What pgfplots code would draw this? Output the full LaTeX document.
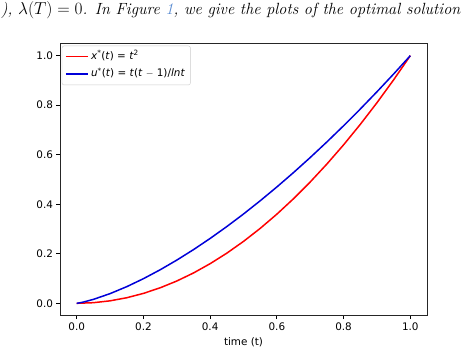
\documentclass[border=0pt]{standalone}
\usepackage{pgfplots}
\pgfplotsset{compat=1.18}
\usepackage{fontspec}
\newfontfamily\dejavu{DejaVu Sans}
\definecolor{linkblue}{RGB}{90,140,210}
\begin{document}
\begin{tikzpicture}[x=1pt,y=1pt]
\useasboundingbox (0,0) rectangle (474,355);
\clip (0,0) rectangle (474,355);
\fill[white] (0,0) rectangle (474,355);
\node[anchor=base west, inner sep=0pt, font=\fontsize{16.2}{18}\selectfont\itshape] at (1,340.5) {), $\lambda(T)=0$. In Figure \textcolor{linkblue}{1}, we give the plots of the optimal solution};
\begin{axis}[
  at={(60pt,39.3pt)}, anchor=south west,
  scale only axis, width=367pt, height=272.4pt,
  xmin=-0.05, xmax=1.05, ymin=-0.05, ymax=1.05,
  xtick={0,0.2,0.4,0.6,0.8,1.0},
  ytick={0,0.2,0.4,0.6,0.8,1.0},
  xtick pos=bottom, ytick pos=left,
  tick align=outside, major tick length=3.5pt,
  tick style={black, line width=0.8pt},
  axis line style={black!85, line width=0.8pt},
  /pgf/number format/assume math mode=true,
  ticklabel style={font=\dejavu\fontsize{10.4}{12}\selectfont, /pgf/number format/fixed, /pgf/number format/fixed zerofill, /pgf/number format/precision=1},
  xlabel={time (t)},
  xlabel style={font=\dejavu\fontsize{10.4}{12}\selectfont},
  legend cell align=left,
  legend image code/.code={\draw[#1] (0pt,0pt) -- (22pt,0pt);},
  legend style={at={(0.005,0.991)}, anchor=north west, draw=black!20, rounded corners=2pt, fill=white, fill opacity=0.8, text opacity=1, inner xsep=3pt, inner ysep=3pt, row sep=2pt, font=\dejavu\fontsize{10.4}{12}\selectfont, nodes={inner sep=2.5pt, text height=8pt, text depth=2.5pt}},
]
\addplot[red, line width=1.5pt] coordinates {
(0,0) (0.05,0.0025) (0.1,0.01) (0.15,0.0225) (0.2,0.04) (0.25,0.0625) (0.3,0.09) (0.35,0.1225) (0.4,0.16) (0.45,0.2025) (0.5,0.25) (0.55,0.3025) (0.6,0.36) (0.65,0.4225) (0.7,0.49) (0.75,0.5625) (0.8,0.64) (0.85,0.7225) (0.9,0.81) (0.95,0.9025) (1,1)
};
\addlegendentry{\textit{x}\textsuperscript{*}(\textit{t}) = \textit{t}\textsuperscript{2}}
\addplot[blue!85!black, line width=1.5pt] coordinates {
(0,0) (0.01,0.00215) (0.02,0.00501) (0.05,0.01586) (0.1,0.03909) (0.15,0.06721) (0.2,0.09941) (0.25,0.13525) (0.3,0.17442) (0.35,0.21670) (0.4,0.26193) (0.45,0.30995) (0.5,0.36067) (0.55,0.41399) (0.6,0.46985) (0.65,0.52811) (0.7,0.58877) (0.75,0.65176) (0.8,0.71702) (0.85,0.78452) (0.9,0.85421) (0.95,0.92605) (1,1)
};
\addlegendentry{\textit{u}\textsuperscript{*}(\textit{t}) = \textit{t}(\textit{t} $-$ 1)/\textit{lnt}}
\end{axis}
\end{tikzpicture}
\end{document}
